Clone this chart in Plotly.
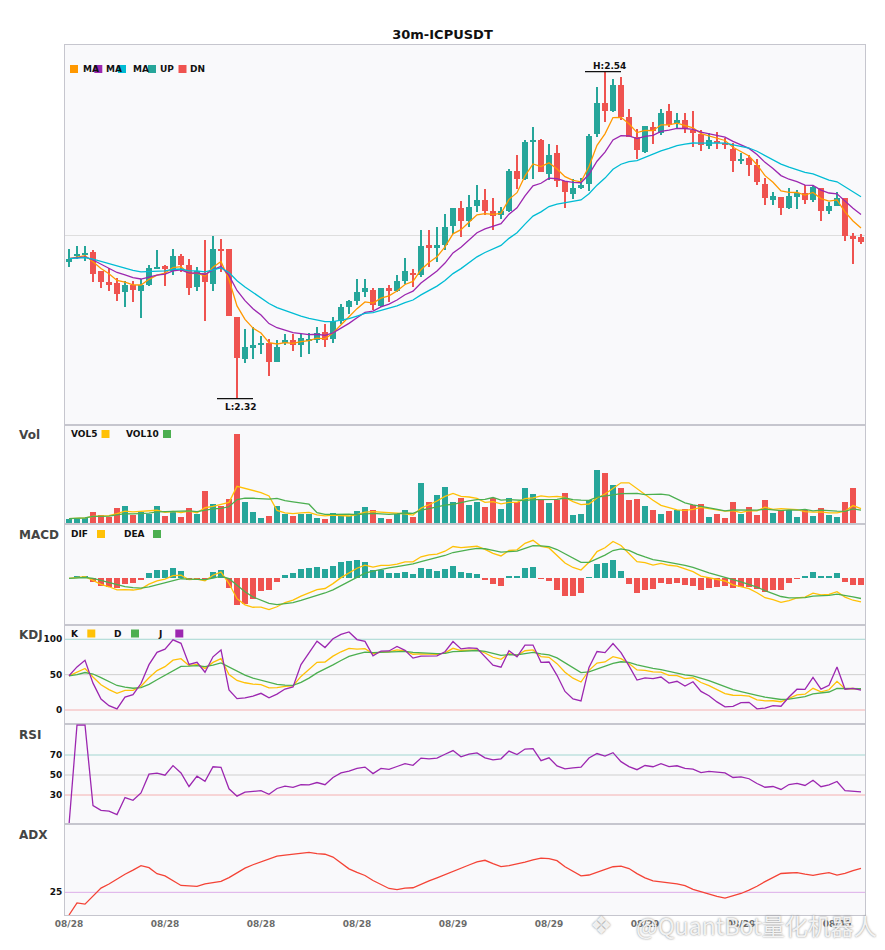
import numpy as np
import pandas as pd
import plotly.graph_objects as go
from plotly.subplots import make_subplots

# ---------------- data ----------------
chart_title = "30m-ICPUSDT"

open_prices = [2.4120, 2.4161, 2.4165, 2.4188, 2.4057, 2.3983, 2.3981, 2.3918, 2.3963, 2.3927,
               2.3963, 2.4080, 2.4091, 2.4062, 2.4158, 2.4098, 2.3951, 2.4048, 2.3972, 2.4208,
               2.4206, 2.3753, 2.3468, 2.3540, 2.3558, 2.3576, 2.3445, 2.3573, 2.3598, 2.3558,
               2.3592, 2.3598, 2.3652, 2.3600, 2.3720, 2.3816, 2.3855, 2.3916, 2.3929, 2.3826,
               2.3943, 2.3924, 2.3990, 2.4048, 2.4030, 2.4233, 2.4215, 2.4233, 2.4363, 2.4487,
               2.4398, 2.4498, 2.4537, 2.4462, 2.4435, 2.4462, 2.4732, 2.4683, 2.4926, 2.4942,
               2.4717, 2.4852, 2.4665, 2.4582, 2.4620, 2.4649, 2.4982, 2.5193, 2.5139, 2.5313,
               2.5097, 2.4964, 2.4863, 2.5031, 2.4987, 2.5139, 2.5054, 2.5077, 2.5009, 2.4980,
               2.4903, 2.4930, 2.4923, 2.4883, 2.4802, 2.4820, 2.4773, 2.4645, 2.4537, 2.4559,
               2.4485, 2.4559, 2.4588, 2.4537, 2.4622, 2.4464, 2.4498, 2.4555, 2.4296, 2.4289]

high_prices = [2.4206, 2.4228, 2.4228, 2.4199, 2.4057, 2.4078, 2.4012, 2.3990, 2.3990, 2.4008,
               2.4098, 2.4199, 2.4098, 2.4210, 2.4177, 2.4143, 2.4086, 2.4269, 2.4294, 2.4273,
               2.4210, 2.3753, 2.3666, 2.3681, 2.3625, 2.3603, 2.3596, 2.3637, 2.3632, 2.3637,
               2.3641, 2.3681, 2.3700, 2.3749, 2.3835, 2.3866, 2.4003, 2.4003, 2.3945, 2.3945,
               2.3965, 2.4032, 2.4145, 2.4075, 2.4334, 2.4334, 2.4356, 2.4447, 2.4487, 2.4530,
               2.4570, 2.4638, 2.4615, 2.4552, 2.4491, 2.4750, 2.4840, 2.4942, 2.5031, 2.4948,
               2.4919, 2.4908, 2.4665, 2.4683, 2.4690, 2.4980, 2.5301, 2.5403, 2.5353, 2.5367,
               2.5151, 2.5016, 2.5036, 2.5065, 2.5155, 2.5185, 2.5122, 2.5122, 2.5139, 2.5009,
               2.4987, 2.4996, 2.4953, 2.4923, 2.4852, 2.4840, 2.4818, 2.4685, 2.4593, 2.4559,
               2.4622, 2.4604, 2.4642, 2.4642, 2.4622, 2.4523, 2.4590, 2.4555, 2.4316, 2.4307]

low_prices = [2.4084, 2.4143, 2.4125, 2.3985, 2.3945, 2.3927, 2.3855, 2.3816, 2.3850, 2.3742,
              2.3956, 2.4075, 2.3958, 2.4030, 2.4053, 2.3895, 2.3924, 2.3726, 2.3924, 2.4053,
              2.3756, 2.3200, 2.3438, 2.3468, 2.3502, 2.3355, 2.3445, 2.3558, 2.3519, 2.3479,
              2.3502, 2.3573, 2.3546, 2.3573, 2.3704, 2.3772, 2.3832, 2.3884, 2.3794, 2.3816,
              2.3850, 2.3918, 2.3974, 2.3951, 2.4019, 2.4086, 2.4120, 2.4199, 2.4312, 2.4289,
              2.4356, 2.4458, 2.4440, 2.4334, 2.4413, 2.4458, 2.4615, 2.4672, 2.4683, 2.4725,
              2.4672, 2.4626, 2.4485, 2.4543, 2.4613, 2.4597, 2.4964, 2.5065, 2.5133, 2.5077,
              2.4964, 2.4813, 2.4858, 2.4919, 2.4975, 2.5031, 2.5014, 2.4987, 2.4896, 2.4869,
              2.4879, 2.4883, 2.4879, 2.4728, 2.4784, 2.4698, 2.4638, 2.4503, 2.4503, 2.4435,
              2.4480, 2.4480, 2.4514, 2.4525, 2.4397, 2.4442, 2.4498, 2.4262, 2.4109, 2.4244]

close_prices = [2.4143, 2.4177, 2.4183, 2.4039, 2.3985, 2.3972, 2.3904, 2.3963, 2.3931, 2.3963,
                2.4080, 2.4089, 2.4073, 2.4158, 2.4100, 2.3945, 2.4057, 2.3985, 2.4206, 2.4199,
                2.3756, 2.3472, 2.3551, 2.3558, 2.3576, 2.3445, 2.3551, 2.3596, 2.3560, 2.3610,
                2.3603, 2.3643, 2.3592, 2.3720, 2.3814, 2.3855, 2.3916, 2.3943, 2.3828, 2.3943,
                2.3924, 2.3990, 2.4057, 2.4032, 2.4226, 2.4215, 2.4233, 2.4354, 2.4487, 2.4395,
                2.4489, 2.4537, 2.4462, 2.4431, 2.4462, 2.4732, 2.4678, 2.4926, 2.4942, 2.4728,
                2.4840, 2.4665, 2.4593, 2.4620, 2.4642, 2.4971, 2.5193, 2.5139, 2.5313, 2.5099,
                2.4964, 2.4874, 2.5036, 2.5002, 2.5124, 2.5046, 2.5077, 2.5014, 2.4991, 2.4908,
                2.4942, 2.4923, 2.4908, 2.4802, 2.4813, 2.4773, 2.4658, 2.4555, 2.4568, 2.4485,
                2.4568, 2.4588, 2.4537, 2.4626, 2.4464, 2.4496, 2.4555, 2.4296, 2.4275, 2.4255]

volumes = [5700, 6700, 6700, 12700, 9700, 7700, 16700, 18700, 9700, 12700,
           10300, 18700, 8700, 13700, 7700, 16700, 10700, 34000, 20700, 18700,
           25700, 90700, 22700, 12700, 6700, 8700, 18700, 10700, 8700, 10700,
           10700, 6700, 5700, 11700, 9000, 8300, 13700, 17700, 14700, 6700,
           5700, 11000, 14700, 7700, 41700, 22700, 29700, 37700, 22700, 26700,
           19700, 22700, 17700, 26700, 15700, 26700, 22700, 36700, 30700, 25700,
           21700, 24700, 31700, 9700, 10700, 24700, 54700, 51700, 39700, 36700,
           24700, 25700, 18700, 14700, 10700, 13700, 14700, 15700, 19700, 20700,
           7700, 10700, 6700, 22700, 10700, 17700, 9700, 24700, 11700, 14700,
           14700, 7700, 14700, 8700, 16700, 9700, 7700, 22700, 36700, 1700]

tick_positions = [0, 12, 24, 36, 48, 60, 72, 84, 96]
tick_labels = ["08/28", "08/28", "08/28", "08/28", "08/29", "08/29", "08/29", "08/29", "08/30"]

ma_periods = [5, 10, 20]
vol_periods = [5, 10]
macd_params = [6, 13, 5]
kdj_levels = [100, 50, 0]
rsi_levels = [70, 50, 30]
adx_levels = [25]

# ---------------- styles ----------------
FONT = "DejaVu Sans"
UP = "#26A69A"
DN = "#EF5350"
MA_COLORS = ["#FF9800", "#9C27B0", "#00BCD4"]
YEL = "#FFC107"
GRN = "#4CAF50"
PUR = "#9C27B0"
ADX_C = "#F44336"
LV_HI, LV_MID, LV_LO, LV_ADX = "#a3d6d1", "#cfcfcf", "#f5b0b0", "#dcaee8"
BORDER = "#c6c6ce"
PLOT_BG = "#f9f9fb"

# ---------------- indicators derived from the read data ----------------
o = pd.Series(open_prices)
h = pd.Series(high_prices)
l = pd.Series(low_prices)
c = pd.Series(close_prices)
v = pd.Series(volumes, dtype=float)
n = len(c)
x = list(range(n))

emas = [c.ewm(span=p, adjust=False).mean() for p in ma_periods]
vol_mas = [v.rolling(p, min_periods=1).mean() for p in vol_periods]

fast, slow, sig = macd_params
dif = c.ewm(span=fast, adjust=False).mean() - c.ewm(span=slow, adjust=False).mean()
dea = dif.ewm(span=sig, adjust=False).mean()
hist = 2 * (dif - dea)

llv = l.rolling(9, min_periods=1).min()
hhv = h.rolling(9, min_periods=1).max()
rsv = ((c - llv) / (hhv - llv) * 100).fillna(50)
k_line = rsv.ewm(com=2, adjust=False).mean()
d_line = k_line.ewm(com=2, adjust=False).mean()
j_line = 3 * k_line - 2 * d_line

delta = c.diff().fillna(0)
gain = delta.clip(lower=0).ewm(alpha=1 / 14, adjust=False).mean()
loss = (-delta.clip(upper=0)).ewm(alpha=1 / 14, adjust=False).mean()
rsi = (100 * gain / (gain + loss)).fillna(0)

prev_c = c.shift(1)
tr = pd.concat([h - l, (h - prev_c).abs(), (l - prev_c).abs()], axis=1).max(axis=1)
up_move = h.diff()
down_move = -l.diff()
plus_dm = pd.Series(np.where((up_move > down_move) & (up_move > 0), up_move, 0.0))
minus_dm = pd.Series(np.where((down_move > up_move) & (down_move > 0), down_move, 0.0))
atr = tr.ewm(span=14, adjust=False).mean()
pdi = 100 * plus_dm.ewm(span=14, adjust=False).mean() / atr
mdi = 100 * minus_dm.ewm(span=14, adjust=False).mean() / atr
dx = (100 * (pdi - mdi).abs() / (pdi + mdi)).fillna(0)
adx = dx.ewm(span=14, adjust=False).mean()

candle_colors = [UP if cc >= oo else DN for cc, oo in zip(close_prices, open_prices)]
hist_colors = [UP if hv >= 0 else DN for hv in hist]
body_base = np.minimum(o, c)
body_len = (c - o).abs()
wick_len = h - l

# ---------------- figure ----------------
fig = make_subplots(rows=6, cols=1, shared_xaxes=True, vertical_spacing=0,
                    row_heights=[379.7, 99.6, 100.4, 99.6, 100.0, 90.7])

fig.add_trace(go.Bar(x=x, y=wick_len, base=l, width=0.13,
                     marker=dict(color=candle_colors, line=dict(width=0))), row=1, col=1)
fig.add_trace(go.Bar(x=x, y=body_len, base=body_base, width=0.7,
                     marker=dict(color=candle_colors, line=dict(width=0))), row=1, col=1)
for ema, col in zip(emas, MA_COLORS):
    fig.add_trace(go.Scatter(x=x, y=ema, mode="lines", line=dict(color=col, width=1.3)), row=1, col=1)

fig.add_trace(go.Bar(x=x, y=v, marker=dict(color=candle_colors, line=dict(width=0)), width=0.78), row=2, col=1)
for vm, col in zip(vol_mas, [YEL, GRN]):
    fig.add_trace(go.Scatter(x=x, y=vm, mode="lines", line=dict(color=col, width=1.3)), row=2, col=1)

fig.add_trace(go.Bar(x=x, y=hist, marker=dict(color=hist_colors, line=dict(width=0)), width=0.7), row=3, col=1)
fig.add_trace(go.Scatter(x=x, y=dif, mode="lines", line=dict(color=YEL, width=1.3)), row=3, col=1)
fig.add_trace(go.Scatter(x=x, y=dea, mode="lines", line=dict(color=GRN, width=1.3)), row=3, col=1)

fig.add_trace(go.Scatter(x=x, y=k_line, mode="lines", line=dict(color=YEL, width=1.3)), row=4, col=1)
fig.add_trace(go.Scatter(x=x, y=d_line, mode="lines", line=dict(color=GRN, width=1.3)), row=4, col=1)
fig.add_trace(go.Scatter(x=x, y=j_line, mode="lines", line=dict(color=PUR, width=1.3)), row=4, col=1)

fig.add_trace(go.Scatter(x=x, y=rsi, mode="lines", line=dict(color=PUR, width=1.3)), row=5, col=1)
fig.add_trace(go.Scatter(x=x, y=adx, mode="lines", line=dict(color=ADX_C, width=1.3)), row=6, col=1)

# reference levels
for lv, lc in zip(kdj_levels, [LV_HI, LV_MID, LV_LO]):
    fig.add_hline(y=lv, row=4, col=1, line=dict(color=lc, width=1), layer="below")
for lv, lc in zip(rsi_levels, [LV_HI, LV_MID, LV_LO]):
    fig.add_hline(y=lv, row=5, col=1, line=dict(color=lc, width=1), layer="below")
for lv in adx_levels:
    fig.add_hline(y=lv, row=6, col=1, line=dict(color=LV_ADX, width=1), layer="below")

# axes
tick_font = dict(family=FONT, size=9, color="#111", weight="bold")
for r in range(1, 7):
    fig.update_xaxes(row=r, col=1, range=[-0.5, n - 0.5], showgrid=False, zeroline=False,
                     showline=True, mirror=True, linecolor=BORDER, linewidth=1, ticks="",
                     showticklabels=(r == 6), fixedrange=True)
    fig.update_yaxes(row=r, col=1, showgrid=False, zeroline=False, showline=True, mirror=True,
                     linecolor=BORDER, linewidth=1, ticks="", showticklabels=False, fixedrange=True)

fig.update_xaxes(row=6, col=1, tickmode="array", tickvals=tick_positions, ticktext=tick_labels,
                 tickfont=dict(family=FONT, size=9, color="#6b6b6b", weight="bold"))

fig.update_yaxes(row=1, col=1, range=[2.3024, 2.5583], tickmode="array", tickvals=[2.43],
                 showgrid=True, gridcolor="#dedede", gridwidth=1)
fig.update_yaxes(row=2, col=1, range=[0, 99600])
dif_top = float(dif.max())
fig.update_yaxes(row=3, col=1, range=[-dif_top * 46.4 / 38.0, dif_top * 54.0 / 38.0])
fig.update_yaxes(row=4, col=1, range=[-20.2, 120.6], showticklabels=True, tickmode="array",
                 tickvals=kdj_levels, tickfont=tick_font)
fig.update_yaxes(row=5, col=1, range=[0.7, 100.7], showticklabels=True, tickmode="array",
                 tickvals=rsi_levels, tickfont=tick_font)
fig.update_yaxes(row=6, col=1, range=[0, 100], showticklabels=True, tickmode="array",
                 tickvals=adx_levels, tickfont=tick_font)

# ---------------- layout decorations (page-pixel placement) ----------------
PAGE_OFF = 8            # default page margin of the html body
W, H = 885 - PAGE_OFF, 950 - PAGE_OFF
PL, PT, PR, PB = 65, 45, 865, 915      # plot area in page pixels
PW, PH = PR - PL, PB - PT


def px(xp):
    return (xp - PL) / PW


def py(yp):
    return (PB - yp) / PH


for txt, yp in [("Vol", 435), ("MACD", 535), ("KDJ", 635), ("RSI", 735), ("ADX", 835)]:
    fig.add_annotation(text=f"<b>{txt}</b>", x=px(17), y=py(yp), xref="paper", yref="paper",
                       xanchor="left", yanchor="middle", showarrow=False,
                       font=dict(family=FONT, size=12, color="#444"))


def legend(items, y_center):
    for txt, tx, bx, col in items:
        fig.add_annotation(text=f"<b>{txt}</b>", x=px(tx), y=py(y_center), xref="paper", yref="paper",
                           xanchor="left", yanchor="middle", showarrow=False, borderpad=0,
                           font=dict(family=FONT, size=9, color="#111"))
    for txt, tx, bx, col in items:
        fig.add_shape(type="rect", xref="paper", yref="paper", x0=px(bx), x1=px(bx + 8),
                      y0=py(y_center + 4), y1=py(y_center - 4), fillcolor=col,
                      line=dict(width=0), layer="above")


legend([("MA", 81.5, 70, MA_COLORS[0]), ("MA", 105, 94.3, MA_COLORS[1]), ("MA", 131.5, 118, MA_COLORS[2]),
        ("UP", 159, 148, UP), ("DN", 189, 178.5, DN)], 69)
legend([("VOL5", 69.5, 101.5, YEL), ("VOL10", 124.5, 163, GRN)], 434)
legend([("DIF", 69.5, 97, YEL), ("DEA", 123, 153, GRN)], 534)
legend([("K", 69.5, 87.3, YEL), ("D", 113, 131, GRN), ("J", 156.5, 175.3, PUR)], 633.5)

# high / low markers from the data
hi_idx, hi_val = int(h.idxmax()), float(h.max())
lo_idx, lo_val = int(l.idxmin()), float(l.min())
for ix, val in [(hi_idx, hi_val), (lo_idx, lo_val)]:
    fig.add_shape(type="line", xref="x", yref="y", x0=ix - 2.5, x1=ix + 2.0, y0=val, y1=val,
                  line=dict(color="#111", width=1.2))
fig.add_annotation(text=f"<b>H:{hi_val:.2f}</b>", x=hi_idx + 0.5, y=hi_val, xref="x", yref="y",
                   xanchor="center", yanchor="bottom", showarrow=False, borderpad=0,
                   font=dict(family=FONT, size=9, color="#111"))
fig.add_annotation(text=f"<b>L:{lo_val:.2f}</b>", x=lo_idx + 0.5, y=lo_val, xref="x", yref="y",
                   xanchor="center", yanchor="top", showarrow=False, yshift=-2, borderpad=0,
                   font=dict(family=FONT, size=9, color="#111"))

# watermark (logo + text)
wm_color = "rgba(250,250,250,0.92)"
wm_shadow = "0px 0px 2px rgba(90,90,90,0.85)"
fig.add_annotation(text="❖", x=px(601), y=py(925), xref="paper", yref="paper",
                   xanchor="center", yanchor="middle", showarrow=False, borderpad=0,
                   font=dict(family="DejaVu Sans", size=25, color=wm_color, shadow=wm_shadow))
fig.add_annotation(text="@QuantBot量化机器人", x=px(878), y=py(925), xref="paper", yref="paper",
                   xanchor="right", yanchor="middle", showarrow=False, borderpad=0,
                   font=dict(family="Noto Sans CJK SC", size=23, color=wm_color, shadow=wm_shadow))

fig.update_layout(
    width=W, height=H,
    margin=dict(l=PL - PAGE_OFF, r=W - (PR - PAGE_OFF), t=PT - PAGE_OFF, b=H - (PB - PAGE_OFF)),
    paper_bgcolor="white",
    plot_bgcolor=PLOT_BG,
    showlegend=False,
    barmode="overlay",
    bargap=0,
    title=dict(text=f"<b>{chart_title}</b>", x=(442.5 - PAGE_OFF) / W, xref="container", xanchor="center",
               y=1 - (34 - PAGE_OFF) / H, yanchor="middle",
               font=dict(family=FONT, size=13, color="#111")),
    font=dict(family=FONT),
    hovermode=False,
)

fig.write_html("out.html", config={"displayModeBar": False})
